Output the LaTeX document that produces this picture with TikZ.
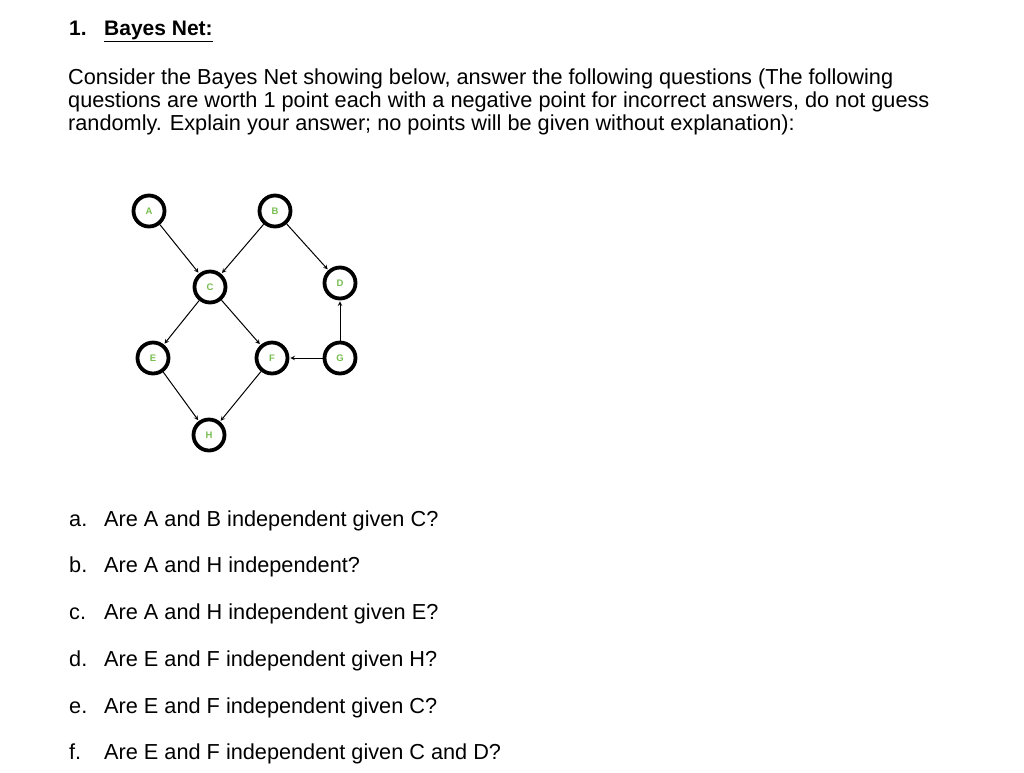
\documentclass[tikz,border=0pt]{standalone}
\usepackage{fontspec}
\setmainfont{Liberation Sans}
\definecolor{lbl}{RGB}{120,190,80}
\begin{document}
\begin{tikzpicture}[x=1pt,y=-1pt,
  bn/.style={circle,draw=black,line width=3.8pt,minimum size=31pt,inner sep=0pt,fill=white,text=lbl,font=\fontsize{9.5}{10}\selectfont\bfseries},
  edge/.style={-stealth,line width=1pt,shorten >=1pt},
  txt/.style={anchor=base west,inner sep=0pt,font=\fontsize{21.7}{24}\selectfont}]
\useasboundingbox (0,0) rectangle (1024,772);
\node[txt,font=\fontsize{21}{24}\selectfont\bfseries] (t1) at (69,35) {1.};
\node[txt,font=\fontsize{21}{24}\selectfont\bfseries] (t2) at (104,35) {\underline{Bayes Net:}};
\node[txt] (p1) at (68,84) {Consider the Bayes Net showing below, answer the following questions (The following};
\node[txt] (p2) at (68,107) {questions are worth 1 point each with a negative point for incorrect answers, do not guess};
\node[txt] (p3) at (68,130) {randomly. Explain your answer; no points will be given without explanation):};
\foreach \l/\q/\y in {a./Are A and B independent given C?/526, b./Are A and H independent?/572, c./Are A and H independent given E?/619, d./Are E and F independent given H?/666, e./Are E and F independent given C?/713, f./Are E and F independent given C and D?/759}{
  \node[txt] at (69,\y) {\l};
  \node[txt] at (104,\y) {\q};
}
\node[bn] (A) at (149,211) {A};
\node[bn] (B) at (275,211) {B};
\node[bn] (C) at (210,287) {C};
\node[bn] (D) at (340,283) {D};
\node[bn] (E) at (153,358) {E};
\node[bn] (F) at (272,358) {F};
\node[bn] (G) at (340,358) {G};
\node[bn] (H) at (209,435) {H};
\draw[edge] (A) -- (C);
\draw[edge] (B) -- (C);
\draw[edge] (B) -- (D);
\draw[edge] (C) -- (E);
\draw[edge] (C) -- (F);
\draw[edge] (G) -- (D);
\draw[edge] (G) -- (F);
\draw[edge] (E) -- (H);
\draw[edge] (F) -- (H);
\end{tikzpicture}
\end{document}
